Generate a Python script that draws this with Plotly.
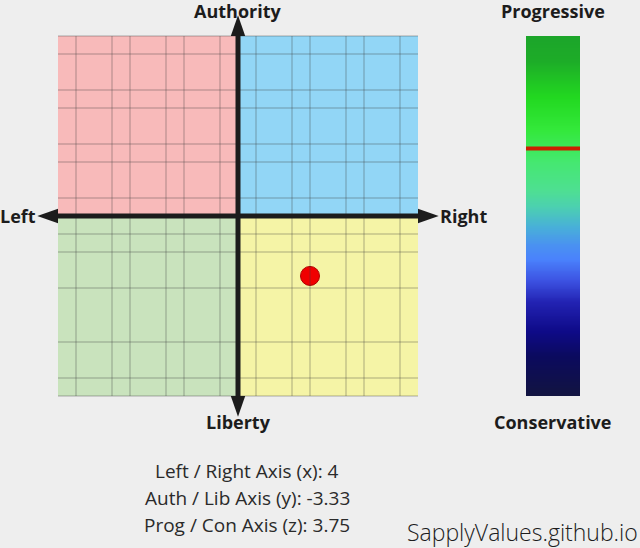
import numpy as np
import plotly.graph_objects as go

# scores read from the result card
x_score = [4]
y_score = [-3.33]
z_score = 3.75

axis_limit = 10
# grid lines that are visible in the picture
grid_x = [-9, -7, -6, -4, -3, -1, 1, 3, 4, 6, 7, 9]
grid_y = [-10, -9, -7, -4, -2, -1, 1, 3, 4, 6, 7, 9, 10]

score_lines = [
    "Left / Right Axis (x): 4",
    "Auth / Lib Axis (y): -3.33",
    "Prog / Con Axis (z): 3.75",
]

# quadrant fills: (x0, x1, y0, y1, colour)
quadrants = [
    (-10, 0, 0, 10, "#f8baba"),
    (0, 10, 0, 10, "#92d6f6"),
    (-10, 0, -10, 0, "#c9e3bd"),
    (0, 10, -10, 0, "#f5f4a6"),
]

# progressive / conservative colour bar (bottom -> top)
bar_stops = [
    (0.00, "#121440"),
    (0.11, "#0b0a5e"),
    (0.18, "#0e0a88"),
    (0.26, "#2222b2"),
    (0.32, "#3c52e2"),
    (0.38, "#4a82fc"),
    (0.42, "#4a92f0"),
    (0.47, "#48b0d8"),
    (0.525, "#4cd0b0"),
    (0.57, "#4edf92"),
    (0.65, "#45e870"),
    (0.74, "#33e83a"),
    (0.83, "#22d820"),
    (0.93, "#1dac28"),
    (1.00, "#1ca52a"),
]
bar_values = np.linspace(-10, 10, 401)

W, H = 640, 548
ink = "#1c1c1c"
label_font = dict(family="Open Sans", size=18, color=ink, weight="bold")

fig = go.Figure()

# colour bar as a heatmap on the second axes
fig.add_trace(go.Heatmap(
    x=[0.5],
    y=bar_values,
    z=[[v] for v in bar_values],
    colorscale=[[p, c] for p, c in bar_stops],
    zmin=-10, zmax=10,
    showscale=False,
    hoverinfo="skip",
    xaxis="x2", yaxis="y2",
))
fig.add_trace(go.Scatter(
    x=[0, 1], y=[z_score, z_score],
    mode="lines",
    line=dict(color="#cc2000", width=4),
    xaxis="x2", yaxis="y2",
    showlegend=False, hoverinfo="skip",
))

# the score dot
fig.add_trace(go.Scatter(
    x=x_score, y=y_score,
    mode="markers",
    marker=dict(size=19, color="#f00000", line=dict(color="#b00000", width=1)),
    showlegend=False,
))

shapes = []
for x0, x1, y0, y1, col in quadrants:
    shapes.append(dict(type="rect", xref="x", yref="y", x0=x0, x1=x1, y0=y0, y1=y1,
                       fillcolor=col, line=dict(width=0), layer="below"))
for gx in grid_x:
    shapes.append(dict(type="line", xref="x", yref="y", x0=gx, x1=gx,
                       y0=-axis_limit, y1=axis_limit,
                       line=dict(color="rgba(60,60,60,0.4)", width=1)))
for gy in grid_y:
    shapes.append(dict(type="line", xref="x", yref="y", y0=gy, y1=gy,
                       x0=-axis_limit, x1=axis_limit,
                       line=dict(color="rgba(60,60,60,0.4)", width=1)))

# main axes with arrow heads
tip = 11.15
half = 0.4
shapes.append(dict(type="line", xref="x", yref="y", x0=-axis_limit, x1=axis_limit, y0=0, y1=0,
                   line=dict(color=ink, width=5)))
shapes.append(dict(type="line", xref="x", yref="y", y0=-axis_limit, y1=axis_limit, x0=0, x1=0,
                   line=dict(color=ink, width=5)))
for s in (1, -1):
    shapes.append(dict(type="path", xref="x", yref="y",
                       path=f"M {s*axis_limit} {-half} L {s*tip} 0 L {s*axis_limit} {half} Z",
                       fillcolor=ink, line=dict(width=0)))
    shapes.append(dict(type="path", xref="x", yref="y",
                       path=f"M {-half} {s*axis_limit} L 0 {s*tip} L {half} {s*axis_limit} Z",
                       fillcolor=ink, line=dict(width=0)))

def px(xp):
    return xp / W

def py(yp):
    return 1 - yp / H

annotations = [
    dict(text="Authority", x=px(238), y=py(11), xanchor="center", yanchor="middle", font=label_font),
    dict(text="Liberty", x=px(238), y=py(422), xanchor="center", yanchor="middle", font=label_font),
    dict(text="Left", x=px(37), y=py(216), xanchor="right", yanchor="middle", font=label_font),
    dict(text="Right", x=px(439), y=py(216), xanchor="left", yanchor="middle", font=label_font),
    dict(text="Progressive", x=px(553), y=py(11), xanchor="center", yanchor="middle", font=label_font),
    dict(text="Conservative", x=px(553), y=py(422), xanchor="center", yanchor="middle", font=label_font),
    dict(text="SapplyValues.github.io", x=px(639), y=py(532), xanchor="right", yanchor="middle",
         font=dict(family="Open Sans", size=23, color=ink, weight=300)),
]
for i, line in enumerate(score_lines):
    annotations.append(dict(text=line, x=px(247), y=py(471 + 27 * i), xanchor="center", yanchor="middle",
                            font=dict(family="Open Sans", size=19, color="#2a2a2a")))
for a in annotations:
    a.update(xref="paper", yref="paper", showarrow=False, borderpad=0)

# main plane spans 12 units each side so the arrow heads are not clipped
span = 12
unit = 18
cx, cy = 238, 216
fig.update_layout(
    width=W, height=H,
    margin=dict(l=0, r=0, t=0, b=0),
    paper_bgcolor="#eeeeee",
    plot_bgcolor="rgba(0,0,0,0)",
    showlegend=False,
    xaxis=dict(range=[-span, span], domain=[px(cx - span * unit), px(cx + span * unit)],
               visible=False, fixedrange=True),
    yaxis=dict(range=[-span, span], domain=[py(cy + span * unit), py(cy - span * unit)],
               visible=False, fixedrange=True),
    xaxis2=dict(range=[0, 1], domain=[px(526), px(580)], visible=False, anchor="y2"),
    yaxis2=dict(range=[-10, 10], domain=[py(396), py(36)], visible=False, anchor="x2"),
    shapes=shapes,
    annotations=annotations,
)

# drop the default page margin so the figure sits at the window corner
fig.write_html("out.html", config={"displayModeBar": False},
               post_script="document.body.style.margin='0';"
                           "document.body.style.background='#eeeeee';")
